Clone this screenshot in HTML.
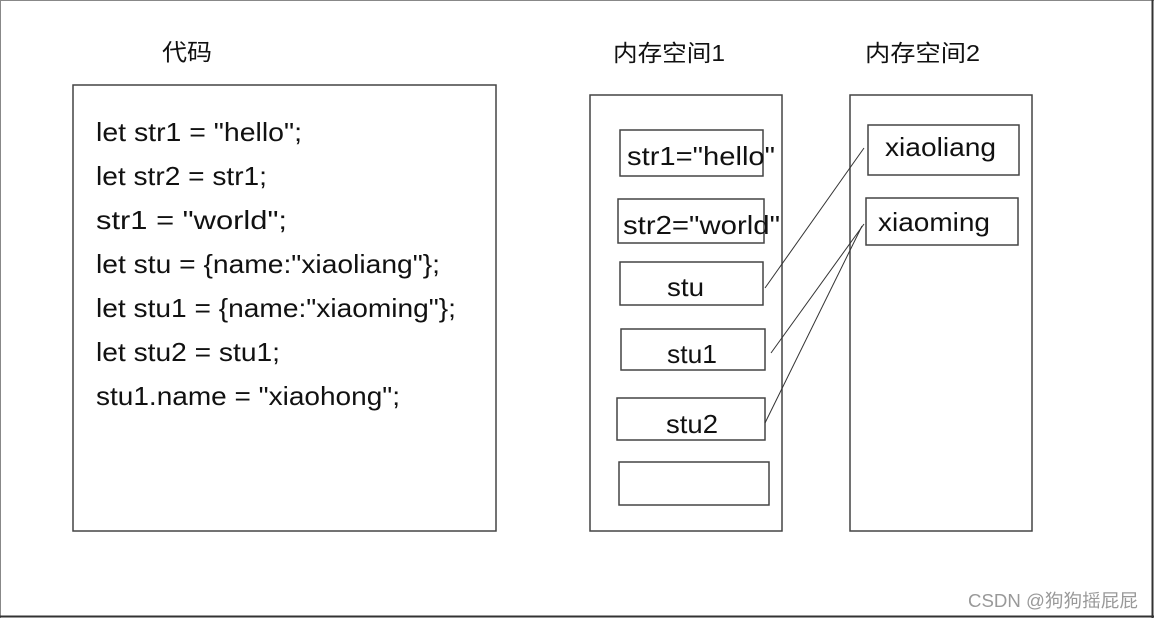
<!DOCTYPE html>
<html><head><meta charset="utf-8"><style>
html,body{margin:0;padding:0;background:#fff;}
svg{display:block;}
text{font-family:"Liberation Sans","Noto Sans CJK SC",sans-serif;fill:#111;}
</style></head><body>
<svg width="1154" height="618" viewBox="0 0 1154 618" xmlns="http://www.w3.org/2000/svg">
<rect x="0" y="0" width="1154" height="618" fill="#fff"/>
<line x1="0.5" y1="0" x2="0.5" y2="618" stroke="#888" stroke-width="1"/>
<line x1="0" y1="0.5" x2="1154" y2="0.5" stroke="#888" stroke-width="1"/>
<line x1="1152.5" y1="0" x2="1152.5" y2="618" stroke="#333" stroke-width="2"/>
<line x1="0" y1="616.5" x2="1154" y2="616.5" stroke="#333" stroke-width="2"/>

<g fill="none" stroke="#444" stroke-width="1.5">
<rect x="73" y="85" width="423" height="446"/>
<rect x="590" y="95" width="192" height="436"/>
<rect x="850" y="95" width="182" height="436"/>
<rect x="620" y="130" width="143" height="46"/>
<rect x="618" y="199" width="146" height="44"/>
<rect x="620" y="262" width="143" height="43"/>
<rect x="621" y="329" width="144" height="41"/>
<rect x="617" y="398" width="148" height="42"/>
<rect x="619" y="462" width="150" height="43"/>
<rect x="868" y="125" width="151" height="50"/>
<rect x="866" y="198" width="152" height="47"/>
</g>
<g stroke="#333" stroke-width="1">
<line x1="765" y1="288" x2="864" y2="148"/>
<line x1="771" y1="353" x2="864" y2="224"/>
<line x1="765" y1="423" x2="862" y2="226"/>
</g>

<g lengthAdjust="spacingAndGlyphs">
<text x="162" y="60" font-size="23" textLength="50" lengthAdjust="spacingAndGlyphs">代码</text>
<text x="613" y="61" font-size="23" textLength="112" lengthAdjust="spacingAndGlyphs">内存空间1</text>
<text x="865" y="61" font-size="23" textLength="115" lengthAdjust="spacingAndGlyphs">内存空间2</text>
</g>

<g font-size="26">
<text x="96" y="141" textLength="206" lengthAdjust="spacingAndGlyphs">let str1 = "hello";</text>
<text x="96" y="185" textLength="171" lengthAdjust="spacingAndGlyphs">let str2 = str1;</text>
<text x="96" y="229" textLength="191" lengthAdjust="spacingAndGlyphs">str1 = "world";</text>
<text x="96" y="273" textLength="344" lengthAdjust="spacingAndGlyphs">let stu = {name:"xiaoliang"};</text>
<text x="96" y="317" textLength="360" lengthAdjust="spacingAndGlyphs">let stu1 = {name:"xiaoming"};</text>
<text x="96" y="361" textLength="184" lengthAdjust="spacingAndGlyphs">let stu2 = stu1;</text>
<text x="96" y="405" textLength="304" lengthAdjust="spacingAndGlyphs">stu1.name = "xiaohong";</text>
</g>
<g font-size="26">
<text x="627" y="165" textLength="148" lengthAdjust="spacingAndGlyphs">str1="hello"</text>
<text x="623" y="234" textLength="157" lengthAdjust="spacingAndGlyphs">str2="world"</text>
<text x="667" y="296" textLength="37" lengthAdjust="spacingAndGlyphs">stu</text>
<text x="667" y="363" textLength="50" lengthAdjust="spacingAndGlyphs">stu1</text>
<text x="666" y="433" textLength="52" lengthAdjust="spacingAndGlyphs">stu2</text>
<text x="885" y="156" textLength="111" lengthAdjust="spacingAndGlyphs">xiaoliang</text>
<text x="878" y="231" textLength="112" lengthAdjust="spacingAndGlyphs">xiaoming</text>
</g>
<text x="968" y="607" font-size="18" style="fill:#999" textLength="170" lengthAdjust="spacingAndGlyphs">CSDN @狗狗摇屁屁</text>
</svg>
</body></html>
